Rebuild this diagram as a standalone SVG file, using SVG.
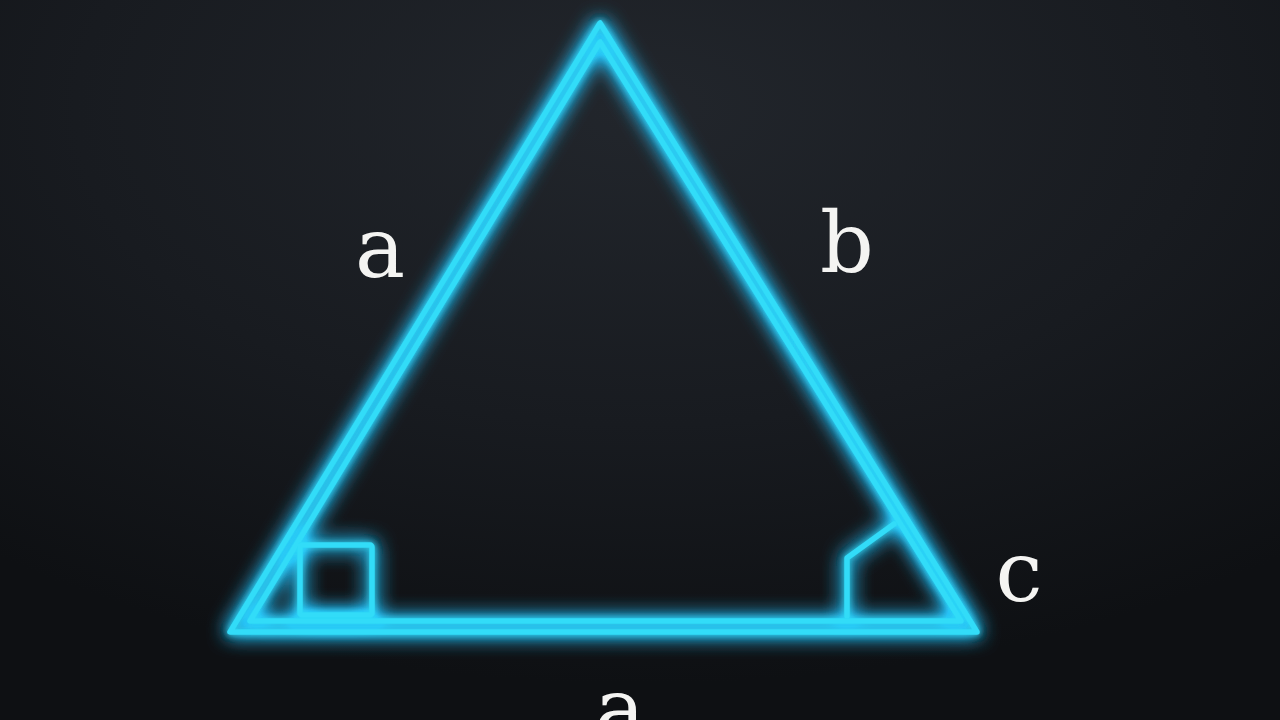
<svg xmlns="http://www.w3.org/2000/svg" width="1280" height="720" viewBox="0 0 1280 720">
<defs>
<radialGradient id="bg" cx="0.5" cy="0.15" r="0.8">
<stop offset="0" stop-color="#22262c"/>
<stop offset="0.55" stop-color="#181b20"/>
<stop offset="1" stop-color="#0e1013"/>
</radialGradient>
<filter id="glow" filterUnits="userSpaceOnUse" x="0" y="0" width="1280" height="720">
<feGaussianBlur in="SourceGraphic" stdDeviation="10" result="b1"/>
<feColorMatrix in="b1" type="matrix" values="0 0 0 0 0.02  0 0 0 0 0.5  0 0 0 0 0.9  0 0 0 2.4 0" result="halo"/>
<feGaussianBlur in="SourceGraphic" stdDeviation="3" result="b2"/>
<feMerge><feMergeNode in="halo"/><feMergeNode in="b2"/><feMergeNode in="SourceGraphic"/></feMerge>
</filter>
<style>
.neon{fill:none;stroke:#30dcf8;stroke-width:5.5;stroke-linejoin:round;stroke-linecap:round}
.lbl{font-family:"DejaVu Serif","Liberation Serif",serif;font-size:84px;fill:#f4f4f2}
</style>
</defs>
<rect width="1280" height="720" fill="url(#bg)"/>
<g filter="url(#glow)">
<g id="triangle">
<polygon class="neon" points="600,23 230,632 977,632"/>
<polygon class="neon" points="600,42 250,621 961,621"/>
</g>
<g id="right-angle">
<rect class="neon" x="300" y="545" width="72" height="70" rx="2"/>
</g>
<g id="angle-mark">
<polyline class="neon" points="847,616 847,558 894,524"/>
</g>
</g>
<g id="labels">
<text class="lbl" x="380" y="277" text-anchor="middle">a</text>
<text class="lbl" x="847" y="272" text-anchor="middle">b</text>
<text class="lbl" x="1019" y="601" text-anchor="middle">c</text>
<text class="lbl" x="620" y="738" text-anchor="middle">a</text>
</g>
</svg>
